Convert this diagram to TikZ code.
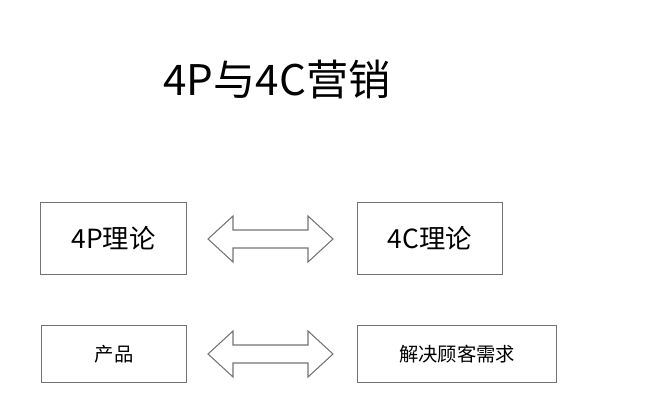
\documentclass[tikz,border=0pt]{standalone}
\usepackage{fontspec}
\setmainfont{Noto Sans CJK SC}
\begin{document}
\begin{tikzpicture}[x=0.02cm, y=-0.02cm, line width = 0.6pt,
  box/.style={draw=gray!90!black, rectangle, inner sep=0pt, anchor=north west}]
\useasboundingbox (0,0) rectangle (650,406);
\node (title) at (277,80) {\fontsize{24}{28}\selectfont 4P与4C营销};
\node[box, minimum width=146*0.02cm, minimum height=72*0.02cm] (a1) at (40,202) {\fontsize{15}{18}\selectfont 4P理论};
\node[box, minimum width=145*0.02cm, minimum height=72*0.02cm] (a2) at (357,202) {\fontsize{15}{18}\selectfont 4C理论};
\node[box, minimum width=145*0.02cm, minimum height=57*0.02cm] (a3) at (41,325) {\fontsize{11}{14}\selectfont 产品};
\node[box, minimum width=199*0.02cm, minimum height=57*0.02cm] (a4) at (357,325) {\fontsize{11}{14}\selectfont 解决顾客需求};
% double arrows
\foreach \y in {239,354} {
  \draw[gray!90!black] (208,\y) -- (233,\y-23) -- (233,\y-9) -- (308,\y-9) -- (308,\y-23)
    -- (333,\y) -- (308,\y+23) -- (308,\y+9) -- (233,\y+9) -- (233,\y+23) -- cycle;
}
\end{tikzpicture}
\end{document}
